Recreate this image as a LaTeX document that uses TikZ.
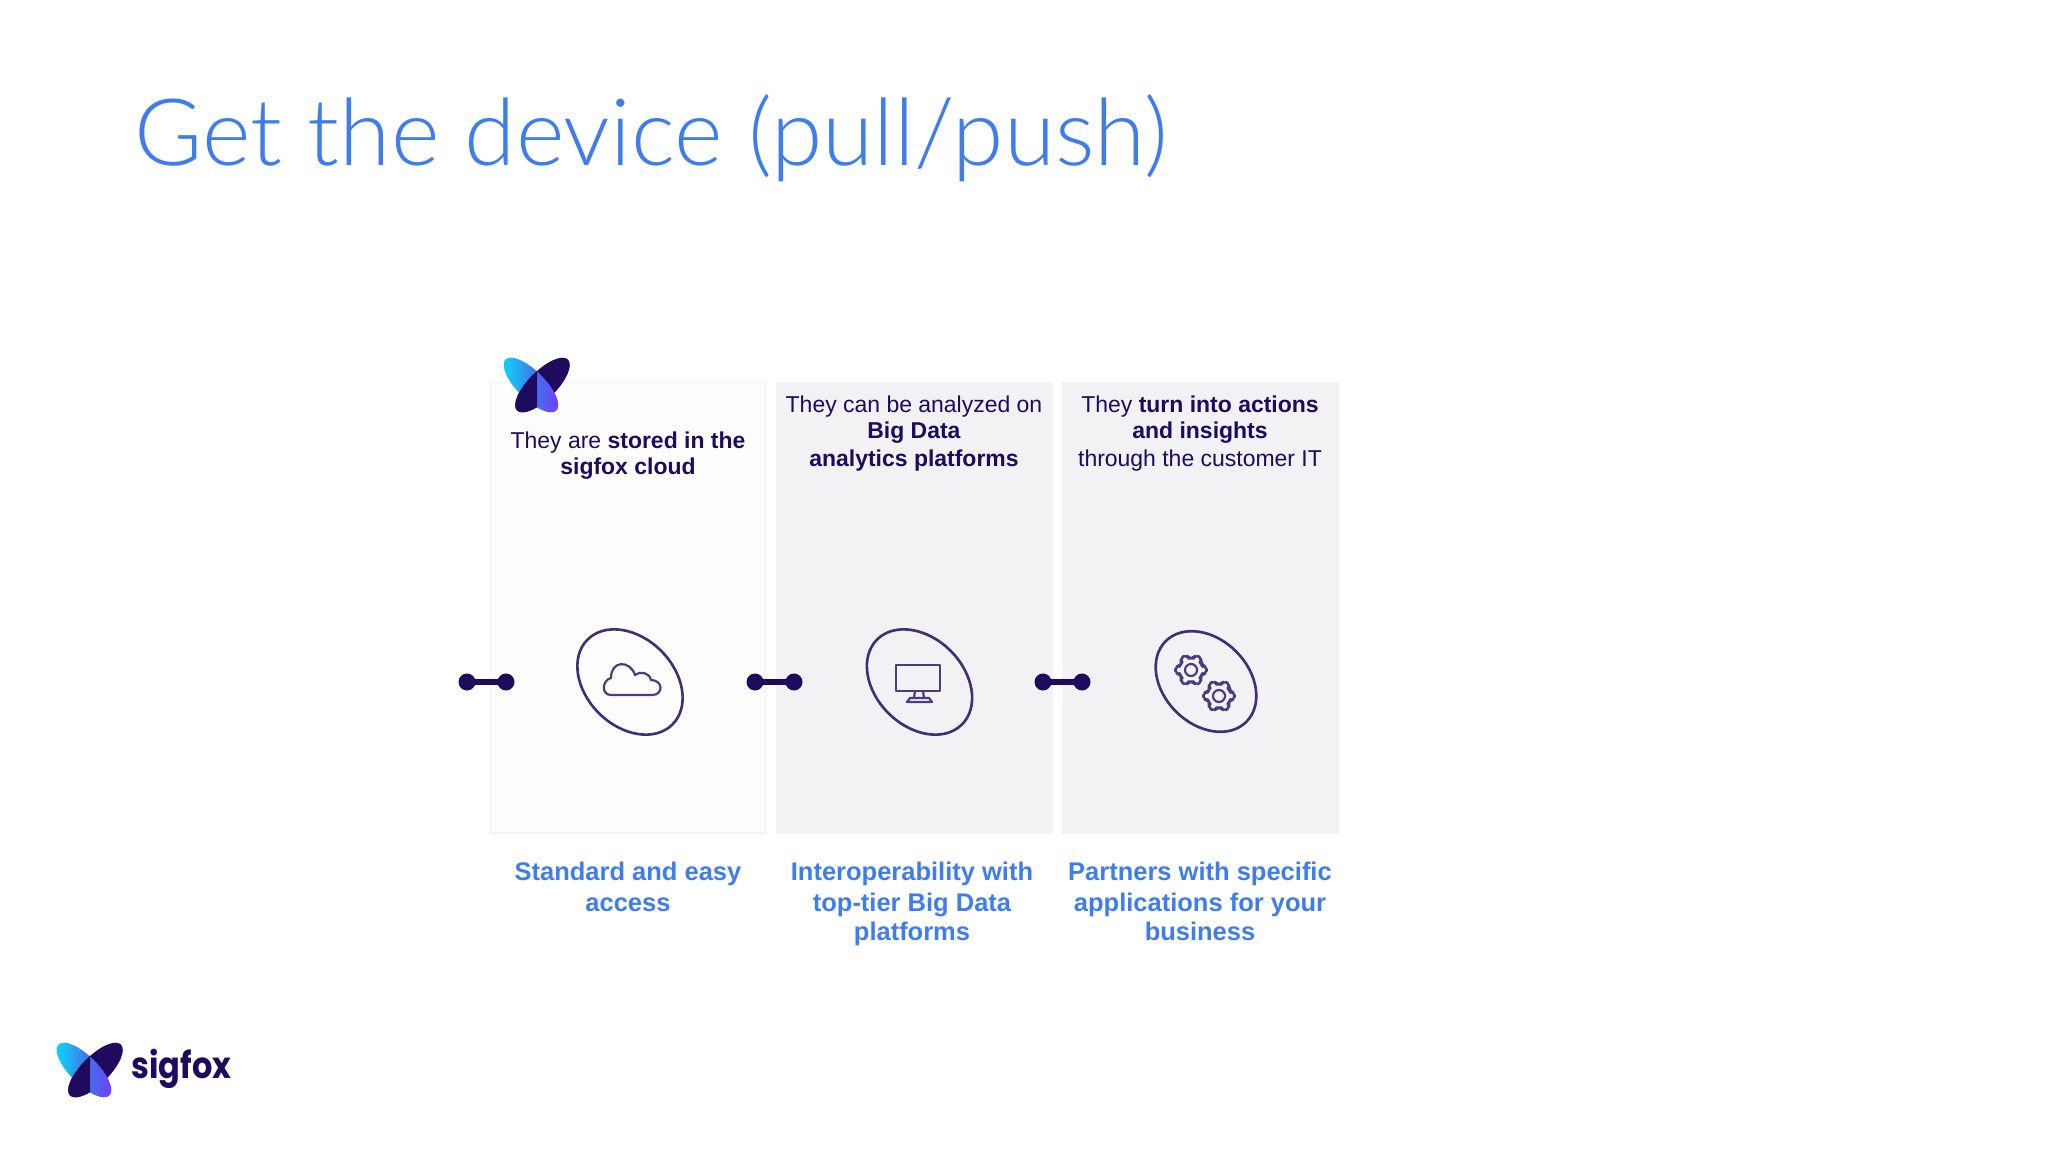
\documentclass[tikz,border=0pt]{standalone}
\usepackage{fontspec}
\setmainfont{Liberation Sans}
\newfontfamily\titlefont{Lato Light}
\newfontfamily\logofont{Poppins}
\usetikzlibrary{shapes.geometric}

\definecolor{sfdark}{HTML}{1F0A5E}
\definecolor{sfblue}{HTML}{3F7DEC}
\definecolor{sfpanel}{HTML}{F2F1F3}
\definecolor{sfedge}{HTML}{F3F2F4}
\definecolor{sfsheet}{HTML}{FEFDFE}
\definecolor{sfcyan}{HTML}{16C6F8}
\definecolor{sfmid}{HTML}{3F72EA}
\definecolor{sfviolet}{HTML}{7A38FF}
\pgfdeclarehorizontalshading{wingfade}{100bp}{color(0bp)=(sfcyan); color(32bp)=(sfcyan); color(53bp)=(sfmid); color(75bp)=(sfviolet); color(100bp)=(sfviolet)}

\tikzset{
  panel/.style={draw=none,fill=sfpanel,anchor=north west,inner sep=0pt,minimum width=2.77cm,minimum height=4.52cm},
  headtext/.style={text=sfdark,align=center,anchor=base,inner sep=0pt,font=\fontsize{6.53}{7.4}\selectfont},
  labeltext/.style={text=sfblue,align=center,anchor=base,inner sep=0pt,font=\fontsize{7.25}{8.8}\selectfont\bfseries},
  stopdot/.style={circle,fill=sfdark,inner sep=0pt,minimum size=0.17cm},
  link/.style={draw=sfdark,line width=1.6pt},
  ring/.style={ellipse,draw=sfdark!85,line width=0.75pt,inner sep=0pt,rotate=-45,minimum width=1.2cm,minimum height=0.88cm},
  icon/.style={draw=sfdark!80,line width=0.62pt,line join=round},
  wingdark/.style={fill=sfdark},
  butterfly/.pic={
    \fill[wingdark] (5.5,12) [rotate around={45:(5.5,12)}] ellipse [x radius=36,y radius=14];
    \shade[shading=wingfade,shift={(-6,12)},rotate=-45] (0,0) ellipse [x radius=36,y radius=14];
    \begin{scope}
      \clip (-40,-25) rectangle (0,45);
      \fill[wingdark] (5.5,12) [rotate around={45:(5.5,12)}] ellipse [x radius=36,y radius=14];
    \end{scope}
  },
  gearicon/.pic={
    \draw[icon,rounded corners=1.2pt] (-24:11.5) \foreach \a in {0,60,...,300} { -- (\a-24:11.5) -- (\a-11:16) -- (\a+11:16) -- (\a+24:11.5) } -- cycle;
    \draw[icon] (0,0) circle [radius=6];
  }
}

\begin{document}
\begin{tikzpicture}[x=0.01cm,y=-0.01cm]
\useasboundingbox (0,0) rectangle (2048,1152);
\fill[white] (0,0) rectangle (2048,1152);

\node (title) [anchor=base west,inner sep=0pt,text=sfblue,font=\fontsize{26.45}{30}\titlefont] at (134,166) {Get the device (pull/push)};

% columns
\node (stored) [panel,fill=sfsheet,draw=sfedge,line width=0.4pt,minimum width=2.75cm,minimum height=4.5cm] at (489.5,382) {};
\node (bigdata) [panel] at (775.5,381) {};
\node (insight) [panel] at (1061.5,381) {};

\pic at (537,373) {butterfly};
\pic at (90,1058) {butterfly};
\node (logoname) [anchor=base west,inner sep=0pt,text=sfdark,xscale=0.875,transform shape,font=\fontsize{10.4}{12}\logofont\bfseries] at (131,1078) {sigfox};

% text on top
\node (storedtxt) [headtext] at (628,474.3) {They are \textbf{stored in the}\\\textbf{sigfox cloud}};
\node (bigdatatxt) [headtext] at (914,466.3) {They can be analyzed on\\\textbf{Big Data}\\[0.4pt]\textbf{analytics platforms}};
\node (insighttxt) [headtext] at (1200,466.3) {They \textbf{turn into actions}\\\textbf{and insights}\\[0.4pt]through the customer IT};

% text below
\node (storedlab) [labeltext] at (628,911) {Standard and easy\\access};
\node (bigdatalab) [labeltext] at (912,940) {Interoperability with\\top-tier Big Data\\[-0.8pt]platforms};
\node (insightlab) [labeltext] at (1200,940) {Partners with specific\\applications for your\\[-0.8pt]business};

% connectors
\node (a1) [stopdot] at (467,682) {};
\node (a2) [stopdot] at (506,682) {};
\node (b1) [stopdot] at (755,682) {};
\node (b2) [stopdot] at (794,682) {};
\node (c1) [stopdot] at (1043,682) {};
\node (c2) [stopdot] at (1082,682) {};
\draw[link] (a1.center) -- (a2.center);
\draw[link] (b1.center) -- (b2.center);
\draw[link] (c1.center) -- (c2.center);

% icons
\node (cloudring) [ring] at (630,682) {};
\node (screenring) [ring] at (919.5,682) {};
\node (gearring) [ring,minimum width=1.14cm,minimum height=0.85cm] at (1206,681.5) {};

\draw[icon] (611,695) -- (652,695) .. controls (664,695) and (663,680) .. (651,680)
  .. controls (649,672) and (640,671) .. (635,675) .. controls (630,660) and (611,660) .. (611,678)
  .. controls (602,680) and (601,695) .. (611,695) -- cycle;

\draw[icon] (896,665) rectangle (940,691);
\draw[icon] (915,691) -- (914,698) (923,691) -- (924,698);
\draw[icon] (907,702) -- (932,702) -- (929,698) -- (910,698) -- cycle;

\pic at (1191,670) {gearicon};
\pic at (1219,696) {gearicon};
\end{tikzpicture}
\end{document}
